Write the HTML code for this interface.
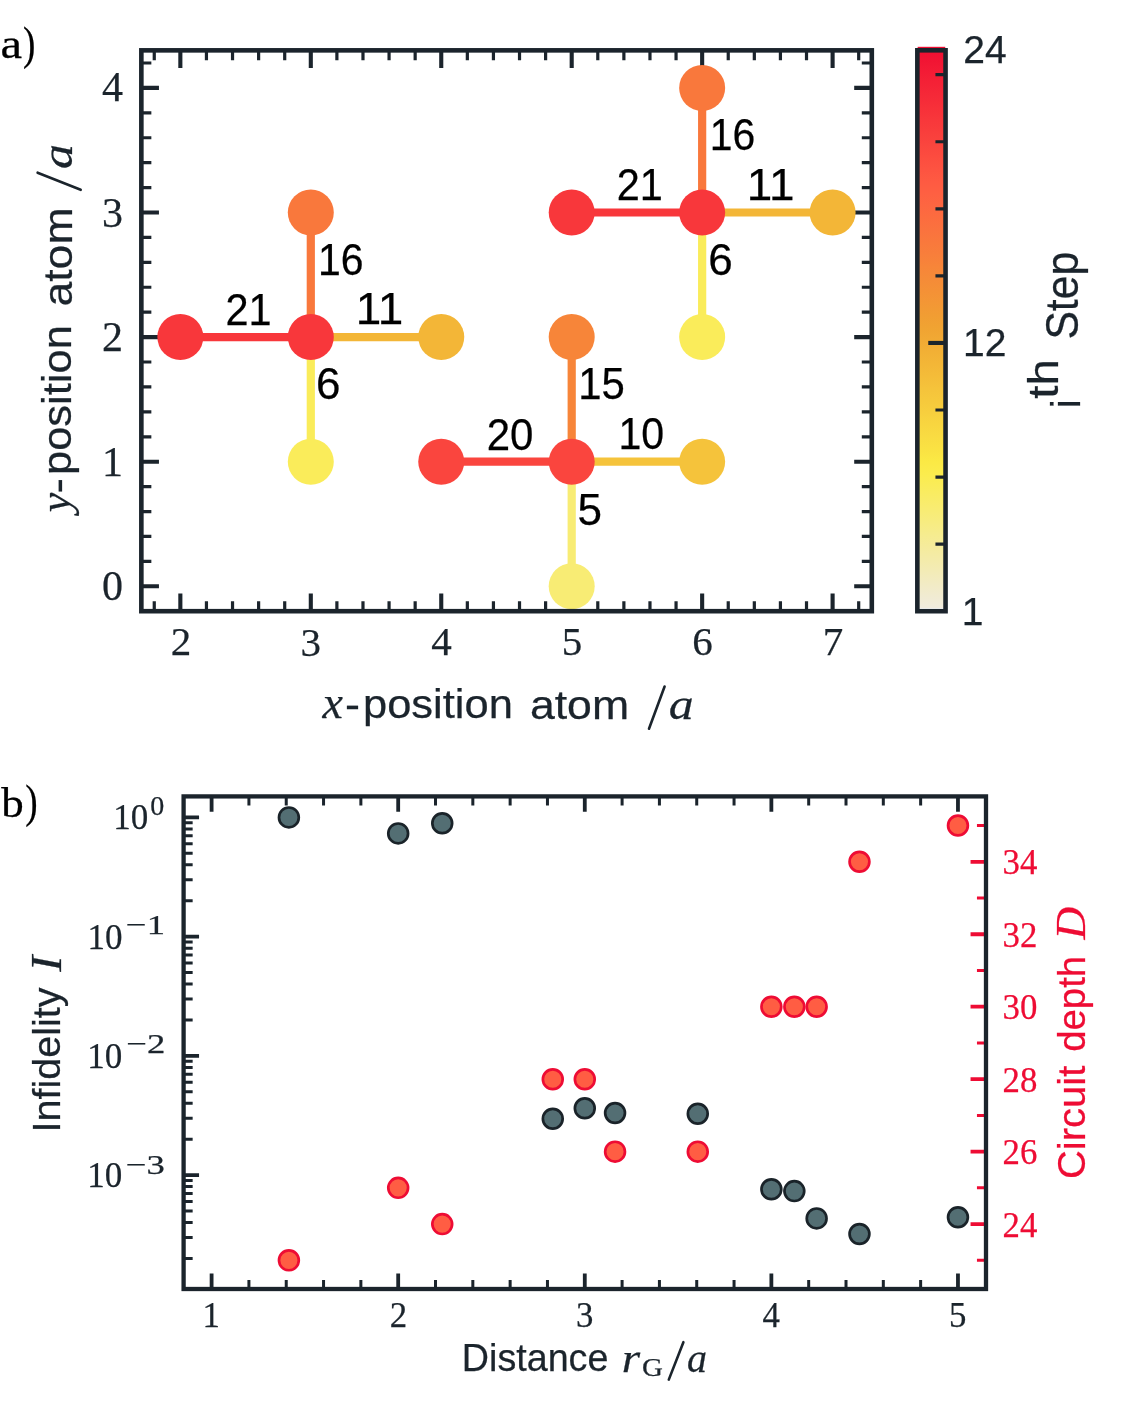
<!DOCTYPE html>
<html><head><meta charset="utf-8"><title>Figure: qubit routing steps and infidelity vs distance</title><style>
html,body{margin:0;padding:0;background:#fff;width:1125px;height:1413px;overflow:hidden;}
svg{display:block;will-change:transform;}
</style></head><body>
<svg width="1125" height="1413" viewBox="0 0 1125 1413">
<rect width="100%" height="100%" fill="#fff"/>
<defs><linearGradient id="cb" x1="0" y1="1" x2="0" y2="0">
<stop offset="0.0000" stop-color="#f0ebde"/>
<stop offset="0.0217" stop-color="#f1ebd1"/>
<stop offset="0.0435" stop-color="#f2ebc4"/>
<stop offset="0.0652" stop-color="#f3ebb6"/>
<stop offset="0.0870" stop-color="#f4eba9"/>
<stop offset="0.1087" stop-color="#f5eb9c"/>
<stop offset="0.1304" stop-color="#f6ec8f"/>
<stop offset="0.1522" stop-color="#f7ec81"/>
<stop offset="0.1739" stop-color="#f8ec74"/>
<stop offset="0.1957" stop-color="#f9ec67"/>
<stop offset="0.2174" stop-color="#faec5a"/>
<stop offset="0.2391" stop-color="#fbec4d"/>
<stop offset="0.2609" stop-color="#fbe945"/>
<stop offset="0.2826" stop-color="#fae243"/>
<stop offset="0.3043" stop-color="#f9dc42"/>
<stop offset="0.3261" stop-color="#f8d640"/>
<stop offset="0.3478" stop-color="#f7cf3e"/>
<stop offset="0.3696" stop-color="#f6c93c"/>
<stop offset="0.3913" stop-color="#f5c33b"/>
<stop offset="0.4130" stop-color="#f4bc39"/>
<stop offset="0.4348" stop-color="#f3b637"/>
<stop offset="0.4565" stop-color="#f2b035"/>
<stop offset="0.4783" stop-color="#f1a934"/>
<stop offset="0.5000" stop-color="#f0a332"/>
<stop offset="0.5217" stop-color="#f19d33"/>
<stop offset="0.5435" stop-color="#f39735"/>
<stop offset="0.5652" stop-color="#f49136"/>
<stop offset="0.5870" stop-color="#f58b38"/>
<stop offset="0.6087" stop-color="#f78539"/>
<stop offset="0.6304" stop-color="#f87e3b"/>
<stop offset="0.6522" stop-color="#f9783c"/>
<stop offset="0.6739" stop-color="#fa723e"/>
<stop offset="0.6957" stop-color="#fc6c3f"/>
<stop offset="0.7174" stop-color="#fd6641"/>
<stop offset="0.7391" stop-color="#fe6042"/>
<stop offset="0.7609" stop-color="#fe5a42"/>
<stop offset="0.7826" stop-color="#fd5341"/>
<stop offset="0.8043" stop-color="#fc4c3f"/>
<stop offset="0.8261" stop-color="#fa453e"/>
<stop offset="0.8478" stop-color="#f93e3c"/>
<stop offset="0.8696" stop-color="#f8373b"/>
<stop offset="0.8913" stop-color="#f73039"/>
<stop offset="0.9130" stop-color="#f52938"/>
<stop offset="0.9348" stop-color="#f42236"/>
<stop offset="0.9565" stop-color="#f31b35"/>
<stop offset="0.9783" stop-color="#f11433"/>
<stop offset="1.0000" stop-color="#f00d32"/>
</linearGradient></defs>
<path d="M154.26 611.20V601.20M154.26 50.35V60.35M206.44 611.20V601.20M206.44 50.35V60.35M232.53 611.20V601.20M232.53 50.35V60.35M258.62 611.20V601.20M258.62 50.35V60.35M284.71 611.20V601.20M284.71 50.35V60.35M336.89 611.20V601.20M336.89 50.35V60.35M362.98 611.20V601.20M362.98 50.35V60.35M389.07 611.20V601.20M389.07 50.35V60.35M415.16 611.20V601.20M415.16 50.35V60.35M467.34 611.20V601.20M467.34 50.35V60.35M493.43 611.20V601.20M493.43 50.35V60.35M519.52 611.20V601.20M519.52 50.35V60.35M545.61 611.20V601.20M545.61 50.35V60.35M597.79 611.20V601.20M597.79 50.35V60.35M623.88 611.20V601.20M623.88 50.35V60.35M649.97 611.20V601.20M649.97 50.35V60.35M676.06 611.20V601.20M676.06 50.35V60.35M728.24 611.20V601.20M728.24 50.35V60.35M754.33 611.20V601.20M754.33 50.35V60.35M780.42 611.20V601.20M780.42 50.35V60.35M806.51 611.20V601.20M806.51 50.35V60.35M858.69 611.20V601.20M858.69 50.35V60.35M141.35 561.38H151.35M871.80 561.38H861.80M141.35 536.46H151.35M871.80 536.46H861.80M141.35 511.54H151.35M871.80 511.54H861.80M141.35 486.62H151.35M871.80 486.62H861.80M141.35 436.78H151.35M871.80 436.78H861.80M141.35 411.86H151.35M871.80 411.86H861.80M141.35 386.94H151.35M871.80 386.94H861.80M141.35 362.02H151.35M871.80 362.02H861.80M141.35 312.18H151.35M871.80 312.18H861.80M141.35 287.26H151.35M871.80 287.26H861.80M141.35 262.34H151.35M871.80 262.34H861.80M141.35 237.42H151.35M871.80 237.42H861.80M141.35 187.58H151.35M871.80 187.58H861.80M141.35 162.66H151.35M871.80 162.66H861.80M141.35 137.74H151.35M871.80 137.74H861.80M141.35 112.82H151.35M871.80 112.82H861.80M141.35 62.98H151.35M871.80 62.98H861.80" stroke="#1b242c" stroke-width="3.2" fill="none"/>
<path d="M180.35 611.20V593.60M180.35 50.35V67.95M310.80 611.20V593.60M310.80 50.35V67.95M441.25 611.20V593.60M441.25 50.35V67.95M571.70 611.20V593.60M571.70 50.35V67.95M702.15 611.20V593.60M702.15 50.35V67.95M832.60 611.20V593.60M832.60 50.35V67.95M141.35 586.30H158.95M871.80 586.30H854.20M141.35 461.70H158.95M871.80 461.70H854.20M141.35 337.10H158.95M871.80 337.10H854.20M141.35 212.50H158.95M871.80 212.50H854.20M141.35 87.90H158.95M871.80 87.90H854.20" stroke="#1b242c" stroke-width="4.1" fill="none"/>
<line x1="310.80" y1="337.10" x2="180.35" y2="337.10" stroke="#f8373b" stroke-width="8.2"/>
<line x1="310.80" y1="337.10" x2="441.25" y2="337.10" stroke="#f3b637" stroke-width="8.2"/>
<line x1="310.80" y1="337.10" x2="310.80" y2="212.50" stroke="#f9783c" stroke-width="8.2"/>
<line x1="310.80" y1="337.10" x2="310.80" y2="461.70" stroke="#faec5a" stroke-width="8.2"/>
<line x1="571.70" y1="461.70" x2="441.25" y2="461.70" stroke="#fa453e" stroke-width="8.2"/>
<line x1="571.70" y1="461.70" x2="702.15" y2="461.70" stroke="#f5c33b" stroke-width="8.2"/>
<line x1="571.70" y1="461.70" x2="571.70" y2="337.10" stroke="#f78539" stroke-width="8.2"/>
<line x1="571.70" y1="461.70" x2="571.70" y2="586.30" stroke="#f8ec74" stroke-width="8.2"/>
<line x1="702.15" y1="212.50" x2="571.70" y2="212.50" stroke="#f8373b" stroke-width="8.2"/>
<line x1="702.15" y1="212.50" x2="832.60" y2="212.50" stroke="#f3b637" stroke-width="8.2"/>
<line x1="702.15" y1="212.50" x2="702.15" y2="87.90" stroke="#f9783c" stroke-width="8.2"/>
<line x1="702.15" y1="212.50" x2="702.15" y2="337.10" stroke="#faec5a" stroke-width="8.2"/>
<circle cx="180.35" cy="337.10" r="23" fill="#f8373b"/>
<circle cx="441.25" cy="337.10" r="23" fill="#f3b637"/>
<circle cx="310.80" cy="212.50" r="23" fill="#f9783c"/>
<circle cx="310.80" cy="461.70" r="23" fill="#faec5a"/>
<circle cx="310.80" cy="337.10" r="23" fill="#f8373b"/>
<circle cx="441.25" cy="461.70" r="23" fill="#fa453e"/>
<circle cx="702.15" cy="461.70" r="23" fill="#f5c33b"/>
<circle cx="571.70" cy="337.10" r="23" fill="#f78539"/>
<circle cx="571.70" cy="586.30" r="23" fill="#f8ec74"/>
<circle cx="571.70" cy="461.70" r="23" fill="#fa453e"/>
<circle cx="571.70" cy="212.50" r="23" fill="#f8373b"/>
<circle cx="832.60" cy="212.50" r="23" fill="#f3b637"/>
<circle cx="702.15" cy="87.90" r="23" fill="#f9783c"/>
<circle cx="702.15" cy="337.10" r="23" fill="#faec5a"/>
<circle cx="702.15" cy="212.50" r="23" fill="#f8373b"/>
<rect x="141.35" y="50.35" width="730.45" height="560.85" fill="none" stroke="#1b242c" stroke-width="4.6"/>
<text id="t_c1l" x="248.50" y="324.70" style='font-family:"Liberation Sans", sans-serif;font-size:44px;fill:#000;stroke:#000;stroke-width:0.25px;' text-anchor="middle" textLength="46.1" lengthAdjust="spacingAndGlyphs">21</text>
<text id="t_c1r" x="379.50" y="324.10" style='font-family:"Liberation Sans", sans-serif;font-size:44px;fill:#000;stroke:#000;stroke-width:0.25px;' text-anchor="middle" textLength="47.6" lengthAdjust="spacingAndGlyphs">11</text>
<text id="t_c1u" x="318.10" y="274.80" style='font-family:"Liberation Sans", sans-serif;font-size:44px;fill:#000;stroke:#000;stroke-width:0.25px;' text-anchor="start" textLength="45.5" lengthAdjust="spacingAndGlyphs">16</text>
<text id="t_c1d" x="316.00" y="399.20" style='font-family:"Liberation Sans", sans-serif;font-size:44px;fill:#000;stroke:#000;stroke-width:0.25px;' text-anchor="start">6</text>
<text id="t_c2l" x="510.00" y="449.80" style='font-family:"Liberation Sans", sans-serif;font-size:44px;fill:#000;stroke:#000;stroke-width:0.25px;' text-anchor="middle" textLength="46.7" lengthAdjust="spacingAndGlyphs">20</text>
<text id="t_c2r" x="641.30" y="449.30" style='font-family:"Liberation Sans", sans-serif;font-size:44px;fill:#000;stroke:#000;stroke-width:0.25px;' text-anchor="middle" textLength="45.7" lengthAdjust="spacingAndGlyphs">10</text>
<text id="t_c2u" x="578.20" y="399.20" style='font-family:"Liberation Sans", sans-serif;font-size:44px;fill:#000;stroke:#000;stroke-width:0.25px;' text-anchor="start" textLength="46.6" lengthAdjust="spacingAndGlyphs">15</text>
<text id="t_c2d" x="577.40" y="525.00" style='font-family:"Liberation Sans", sans-serif;font-size:44px;fill:#000;stroke:#000;stroke-width:0.25px;' text-anchor="start">5</text>
<text id="t_c3l" x="639.75" y="199.70" style='font-family:"Liberation Sans", sans-serif;font-size:44px;fill:#000;stroke:#000;stroke-width:0.25px;' text-anchor="middle" textLength="46.1" lengthAdjust="spacingAndGlyphs">21</text>
<text id="t_c3r" x="770.65" y="199.70" style='font-family:"Liberation Sans", sans-serif;font-size:44px;fill:#000;stroke:#000;stroke-width:0.25px;' text-anchor="middle" textLength="47.6" lengthAdjust="spacingAndGlyphs">11</text>
<text id="t_c3u" x="709.65" y="150.00" style='font-family:"Liberation Sans", sans-serif;font-size:44px;fill:#000;stroke:#000;stroke-width:0.25px;' text-anchor="start" textLength="45.5" lengthAdjust="spacingAndGlyphs">16</text>
<text id="t_c3d" x="708.35" y="274.50" style='font-family:"Liberation Sans", sans-serif;font-size:44px;fill:#000;stroke:#000;stroke-width:0.25px;' text-anchor="start">6</text>
<text id="t_ax2" x="181.05" y="654.50" style='font-family:"Liberation Serif", serif;font-size:41px;fill:#1b242c;stroke:#1b242c;stroke-width:0.25px;' text-anchor="middle">2</text>
<text id="t_ax3" x="310.80" y="655.50" style='font-family:"Liberation Serif", serif;font-size:41px;fill:#1b242c;stroke:#1b242c;stroke-width:0.25px;' text-anchor="middle">3</text>
<text id="t_ax4" x="441.55" y="655.00" style='font-family:"Liberation Serif", serif;font-size:41px;fill:#1b242c;stroke:#1b242c;stroke-width:0.25px;' text-anchor="middle">4</text>
<text id="t_ax5" x="572.03" y="655.00" style='font-family:"Liberation Serif", serif;font-size:41px;fill:#1b242c;stroke:#1b242c;stroke-width:0.25px;' text-anchor="middle">5</text>
<text id="t_ax6" x="702.48" y="655.00" style='font-family:"Liberation Serif", serif;font-size:41px;fill:#1b242c;stroke:#1b242c;stroke-width:0.25px;' text-anchor="middle">6</text>
<text id="t_ax7" x="832.93" y="655.00" style='font-family:"Liberation Serif", serif;font-size:41px;fill:#1b242c;stroke:#1b242c;stroke-width:0.25px;' text-anchor="middle">7</text>
<text id="t_ay0" x="123.05" y="600.45" style='font-family:"Liberation Serif", serif;font-size:42px;fill:#1b242c;stroke:#1b242c;stroke-width:0.25px;' text-anchor="end">0</text>
<text id="t_ay1" x="123.05" y="475.85" style='font-family:"Liberation Serif", serif;font-size:42px;fill:#1b242c;stroke:#1b242c;stroke-width:0.25px;' text-anchor="end">1</text>
<text id="t_ay2" x="123.05" y="351.25" style='font-family:"Liberation Serif", serif;font-size:42px;fill:#1b242c;stroke:#1b242c;stroke-width:0.25px;' text-anchor="end">2</text>
<text id="t_ay3" x="123.10" y="227.40" style='font-family:"Liberation Serif", serif;font-size:42px;fill:#1b242c;stroke:#1b242c;stroke-width:0.25px;' text-anchor="end">3</text>
<text id="t_ay4" x="123.00" y="101.30" style='font-family:"Liberation Serif", serif;font-size:42px;fill:#1b242c;stroke:#1b242c;stroke-width:0.25px;' text-anchor="end">4</text>
<rect x="917.65" y="46.8" width="27.60" height="561.20" fill="url(#cb)"/>
<rect x="917.35" y="50.3" width="28.20" height="560.90" fill="none" stroke="#1b242c" stroke-width="4.6"/>
<path d="M945.55 544.14H935.45M945.55 477.07H935.45M945.55 410.01H935.45M945.55 275.88H935.45M945.55 208.82H935.45M945.55 141.75H935.45M945.55 74.69H935.45" stroke="#1b242c" stroke-width="3.2" fill="none"/>
<path d="M945.55 342.94H928.25" stroke="#1b242c" stroke-width="4.1" fill="none"/>
<text id="t_cb24" x="963.20" y="63.40" style='font-family:"Liberation Sans", sans-serif;font-size:39px;fill:#1b242c;stroke:#1b242c;stroke-width:0.25px;' text-anchor="start">24</text>
<text id="t_cb12" x="963.00" y="356.40" style='font-family:"Liberation Sans", sans-serif;font-size:39px;fill:#1b242c;stroke:#1b242c;stroke-width:0.25px;' text-anchor="start">12</text>
<text id="t_cb1" x="961.80" y="624.70" style='font-family:"Liberation Sans", sans-serif;font-size:39px;fill:#1b242c;stroke:#1b242c;stroke-width:0.25px;' text-anchor="start">1</text>
<text id="t_i" transform="translate(1079.80,408.20) rotate(-90)" style='font-family:"Liberation Sans", sans-serif;font-size:40px;fill:#1b242c;stroke:#1b242c;stroke-width:0.25px;' text-anchor="start">i</text>
<text id="t_th" transform="translate(1058.10,398.80) rotate(-90)" style='font-family:"Liberation Sans", sans-serif;font-size:42px;fill:#1b242c;stroke:#1b242c;stroke-width:0.25px;' text-anchor="start" textLength="39.6" lengthAdjust="spacingAndGlyphs">th</text>
<text id="t_step" transform="translate(1078.30,339.60) rotate(-90)" style='font-family:"Liberation Sans", sans-serif;font-size:46px;fill:#1b242c;stroke:#1b242c;stroke-width:0.25px;' text-anchor="start" textLength="87.8" lengthAdjust="spacingAndGlyphs">Step</text>
<text id="t_xl_x" x="322.50" y="718.20" style='font-family:"Liberation Serif", serif;font-size:46px;fill:#1b242c;stroke:#1b242c;stroke-width:0.25px;font-style:italic;' text-anchor="start">x</text>
<text id="t_xl_hy" x="345.00" y="717.80" style='font-family:"Liberation Sans", sans-serif;font-size:40px;fill:#1b242c;stroke:#1b242c;stroke-width:0.25px;' text-anchor="start" textLength="15" lengthAdjust="spacingAndGlyphs">-</text>
<text id="t_xl_pos" x="363.00" y="718.30" style='font-family:"Liberation Sans", sans-serif;font-size:40px;fill:#1b242c;stroke:#1b242c;stroke-width:0.25px;' text-anchor="start" textLength="149.9" lengthAdjust="spacingAndGlyphs">position</text>
<text id="t_xl_atom" x="529.90" y="719.20" style='font-family:"Liberation Sans", sans-serif;font-size:40px;fill:#1b242c;stroke:#1b242c;stroke-width:0.25px;' text-anchor="start" textLength="99.2" lengthAdjust="spacingAndGlyphs">atom</text>
<line x1="649.0" y1="728.7" x2="664.6" y2="686.5" stroke="#1b242c" stroke-width="2.6" stroke-linecap="round"/>
<text id="t_xl_a" x="668.70" y="719.20" style='font-family:"Liberation Serif", serif;font-size:44px;fill:#1b242c;stroke:#1b242c;stroke-width:0.25px;font-style:italic;' text-anchor="start" textLength="24.9" lengthAdjust="spacingAndGlyphs">a</text>
<text id="t_yl_y" transform="translate(70.30,512.30) rotate(-90)" style='font-family:"Liberation Serif", serif;font-size:44px;fill:#1b242c;stroke:#1b242c;stroke-width:0.25px;font-style:italic;' text-anchor="start">y</text>
<text id="t_yl_hy" transform="translate(71.10,493.50) rotate(-90)" style='font-family:"Liberation Sans", sans-serif;font-size:40px;fill:#1b242c;stroke:#1b242c;stroke-width:0.25px;' text-anchor="start" textLength="15.5" lengthAdjust="spacingAndGlyphs">-</text>
<text id="t_yl_pos" transform="translate(71.30,475.00) rotate(-90)" style='font-family:"Liberation Sans", sans-serif;font-size:40px;fill:#1b242c;stroke:#1b242c;stroke-width:0.25px;' text-anchor="start" textLength="149.9" lengthAdjust="spacingAndGlyphs">position</text>
<text id="t_yl_atom" transform="translate(71.50,306.60) rotate(-90)" style='font-family:"Liberation Sans", sans-serif;font-size:40px;fill:#1b242c;stroke:#1b242c;stroke-width:0.25px;' text-anchor="start" textLength="99.2" lengthAdjust="spacingAndGlyphs">atom</text>
<line x1="80.7" y1="189.8" x2="37.6" y2="172.7" stroke="#1b242c" stroke-width="2.6" stroke-linecap="round"/>
<text id="t_yl_a" transform="translate(71.50,169.00) rotate(-90)" style='font-family:"Liberation Serif", serif;font-size:44px;fill:#1b242c;stroke:#1b242c;stroke-width:0.25px;font-style:italic;' text-anchor="start" textLength="24.9" lengthAdjust="spacingAndGlyphs">a</text>
<text id="t_pa" x="0.40" y="58.00" style='font-family:"Liberation Serif", serif;font-size:42px;fill:#000;stroke:#000;stroke-width:0.25px;' text-anchor="start" textLength="21.6" lengthAdjust="spacingAndGlyphs">a</text>
<text id="t_pap" x="22.90" y="58.80" style='font-family:"Liberation Serif", serif;font-size:46px;fill:#000;stroke:#000;stroke-width:0.25px;' text-anchor="start" textLength="12.4" lengthAdjust="spacingAndGlyphs">)</text>
<text id="t_pb" x="1.30" y="816.90" style='font-family:"Liberation Serif", serif;font-size:42px;fill:#000;stroke:#000;stroke-width:0.25px;' text-anchor="start" textLength="22.5" lengthAdjust="spacingAndGlyphs">b</text>
<text id="t_pbp" x="25.20" y="817.00" style='font-family:"Liberation Serif", serif;font-size:46px;fill:#000;stroke:#000;stroke-width:0.25px;' text-anchor="start" textLength="12.4" lengthAdjust="spacingAndGlyphs">)</text>
<path d="M248.92 1289.00V1279.95M248.92 796.40V805.45M286.24 1289.00V1279.95M286.24 796.40V805.45M323.55 1289.00V1279.95M323.55 796.40V805.45M360.87 1289.00V1279.95M360.87 796.40V805.45M435.51 1289.00V1279.95M435.51 796.40V805.45M472.83 1289.00V1279.95M472.83 796.40V805.45M510.14 1289.00V1279.95M510.14 796.40V805.45M547.46 1289.00V1279.95M547.46 796.40V805.45M622.10 1289.00V1279.95M622.10 796.40V805.45M659.42 1289.00V1279.95M659.42 796.40V805.45M696.73 1289.00V1279.95M696.73 796.40V805.45M734.05 1289.00V1279.95M734.05 796.40V805.45M808.69 1289.00V1279.95M808.69 796.40V805.45M846.01 1289.00V1279.95M846.01 796.40V805.45M883.32 1289.00V1279.95M883.32 796.40V805.45M920.64 1289.00V1279.95M920.64 796.40V805.45M183.60 1258.39H192.65M183.60 1237.40H192.65M183.60 1222.50H192.65M183.60 1210.95H192.65M183.60 1201.51H192.65M183.60 1193.53H192.65M183.60 1186.61H192.65M183.60 1180.52H192.65M183.60 1139.17H192.65M183.60 1118.18H192.65M183.60 1103.28H192.65M183.60 1091.73H192.65M183.60 1082.29H192.65M183.60 1074.31H192.65M183.60 1067.39H192.65M183.60 1061.30H192.65M183.60 1019.95H192.65M183.60 998.96H192.65M183.60 984.06H192.65M183.60 972.51H192.65M183.60 963.07H192.65M183.60 955.09H192.65M183.60 948.17H192.65M183.60 942.08H192.65M183.60 900.73H192.65M183.60 879.74H192.65M183.60 864.84H192.65M183.60 853.29H192.65M183.60 843.85H192.65M183.60 835.87H192.65M183.60 828.95H192.65M183.60 822.86H192.65" stroke="#1b242c" stroke-width="3.0" fill="none"/>
<path d="M211.60 1289.00V1273.55M211.60 796.40V811.85M398.19 1289.00V1273.55M398.19 796.40V811.85M584.78 1289.00V1273.55M584.78 796.40V811.85M771.37 1289.00V1273.55M771.37 796.40V811.85M957.96 1289.00V1273.55M957.96 796.40V811.85M183.60 1175.06H199.05M183.60 1055.84H199.05M183.60 936.62H199.05M183.60 817.40H199.05" stroke="#1b242c" stroke-width="3.8" fill="none"/>
<path d="M986.00 1260.33H976.95M986.00 1187.87H976.95M986.00 1115.41H976.95M986.00 1042.95H976.95M986.00 970.49H976.95M986.00 898.03H976.95M986.00 825.57H976.95" stroke="#ee0c34" stroke-width="3.0" fill="none"/>
<path d="M986.00 1224.10H970.55M986.00 1151.64H970.55M986.00 1079.18H970.55M986.00 1006.72H970.55M986.00 934.26H970.55M986.00 861.80H970.55" stroke="#ee0c34" stroke-width="3.8" fill="none"/>
<rect x="183.6" y="796.4" width="802.40" height="492.60" fill="none" stroke="#1b242c" stroke-width="4.3"/>
<circle cx="288.89" cy="817.4" r="9.9" fill="#536e73" stroke="#1a2329" stroke-width="2.7"/>
<circle cx="398.19" cy="833.4" r="9.9" fill="#536e73" stroke="#1a2329" stroke-width="2.7"/>
<circle cx="442.24" cy="823.2" r="9.9" fill="#536e73" stroke="#1a2329" stroke-width="2.7"/>
<circle cx="552.77" cy="1118.8" r="9.9" fill="#536e73" stroke="#1a2329" stroke-width="2.7"/>
<circle cx="584.78" cy="1108.3" r="9.9" fill="#536e73" stroke="#1a2329" stroke-width="2.7"/>
<circle cx="615.06" cy="1113.0" r="9.9" fill="#536e73" stroke="#1a2329" stroke-width="2.7"/>
<circle cx="697.77" cy="1113.7" r="9.9" fill="#536e73" stroke="#1a2329" stroke-width="2.7"/>
<circle cx="771.37" cy="1189.3" r="9.9" fill="#536e73" stroke="#1a2329" stroke-width="2.7"/>
<circle cx="794.34" cy="1191.1" r="9.9" fill="#536e73" stroke="#1a2329" stroke-width="2.7"/>
<circle cx="816.64" cy="1218.4" r="9.9" fill="#536e73" stroke="#1a2329" stroke-width="2.7"/>
<circle cx="859.47" cy="1234.0" r="9.9" fill="#536e73" stroke="#1a2329" stroke-width="2.7"/>
<circle cx="957.96" cy="1217.3" r="9.9" fill="#536e73" stroke="#1a2329" stroke-width="2.7"/>
<circle cx="288.89" cy="1260.33" r="9.9" fill="#ff5d43" stroke="#ee0c34" stroke-width="2.7"/>
<circle cx="398.19" cy="1187.87" r="9.9" fill="#ff5d43" stroke="#ee0c34" stroke-width="2.7"/>
<circle cx="442.24" cy="1224.1" r="9.9" fill="#ff5d43" stroke="#ee0c34" stroke-width="2.7"/>
<circle cx="552.77" cy="1079.18" r="9.9" fill="#ff5d43" stroke="#ee0c34" stroke-width="2.7"/>
<circle cx="584.78" cy="1079.18" r="9.9" fill="#ff5d43" stroke="#ee0c34" stroke-width="2.7"/>
<circle cx="615.06" cy="1151.64" r="9.9" fill="#ff5d43" stroke="#ee0c34" stroke-width="2.7"/>
<circle cx="697.77" cy="1151.64" r="9.9" fill="#ff5d43" stroke="#ee0c34" stroke-width="2.7"/>
<circle cx="771.37" cy="1006.72" r="9.9" fill="#ff5d43" stroke="#ee0c34" stroke-width="2.7"/>
<circle cx="794.34" cy="1006.72" r="9.9" fill="#ff5d43" stroke="#ee0c34" stroke-width="2.7"/>
<circle cx="816.64" cy="1006.72" r="9.9" fill="#ff5d43" stroke="#ee0c34" stroke-width="2.7"/>
<circle cx="859.47" cy="861.8" r="9.9" fill="#ff5d43" stroke="#ee0c34" stroke-width="2.7"/>
<circle cx="957.96" cy="825.57" r="9.9" fill="#ff5d43" stroke="#ee0c34" stroke-width="2.7"/>
<text id="t_bx1" x="211.10" y="1327.20" style='font-family:"Liberation Serif", serif;font-size:34.8px;fill:#1b242c;stroke:#1b242c;stroke-width:0.25px;' text-anchor="middle">1</text>
<text id="t_bx2" x="398.39" y="1327.20" style='font-family:"Liberation Serif", serif;font-size:34.8px;fill:#1b242c;stroke:#1b242c;stroke-width:0.25px;' text-anchor="middle">2</text>
<text id="t_bx3" x="584.63" y="1327.20" style='font-family:"Liberation Serif", serif;font-size:34.8px;fill:#1b242c;stroke:#1b242c;stroke-width:0.25px;' text-anchor="middle">3</text>
<text id="t_bx4" x="771.22" y="1327.20" style='font-family:"Liberation Serif", serif;font-size:34.8px;fill:#1b242c;stroke:#1b242c;stroke-width:0.25px;' text-anchor="middle">4</text>
<text id="t_bx5" x="957.81" y="1327.20" style='font-family:"Liberation Serif", serif;font-size:34.8px;fill:#1b242c;stroke:#1b242c;stroke-width:0.25px;' text-anchor="middle">5</text>
<text id="t_b10_0" x="148.30" y="829.40" style='font-family:"Liberation Serif", serif;font-size:35px;fill:#1b242c;stroke:#1b242c;stroke-width:0.25px;' text-anchor="end">10</text>
<text id="t_bsup_0" x="164.30" y="815.30" style='font-family:"Liberation Serif", serif;font-size:28px;fill:#1b242c;stroke:#1b242c;stroke-width:0.25px;' text-anchor="end">0</text>
<text id="t_b10_1" x="122.50" y="948.72" style='font-family:"Liberation Serif", serif;font-size:35px;fill:#1b242c;stroke:#1b242c;stroke-width:0.25px;' text-anchor="end">10</text>
<text id="t_bsup_1" x="165.00" y="934.12" style='font-family:"Liberation Serif", serif;font-size:28px;fill:#1b242c;stroke:#1b242c;stroke-width:0.25px;' text-anchor="end" textLength="39" lengthAdjust="spacingAndGlyphs">−1</text>
<text id="t_b10_2" x="122.30" y="1067.94" style='font-family:"Liberation Serif", serif;font-size:35px;fill:#1b242c;stroke:#1b242c;stroke-width:0.25px;' text-anchor="end">10</text>
<text id="t_bsup_2" x="165.40" y="1053.34" style='font-family:"Liberation Serif", serif;font-size:28px;fill:#1b242c;stroke:#1b242c;stroke-width:0.25px;' text-anchor="end" textLength="39" lengthAdjust="spacingAndGlyphs">−2</text>
<text id="t_b10_3" x="122.30" y="1187.36" style='font-family:"Liberation Serif", serif;font-size:35px;fill:#1b242c;stroke:#1b242c;stroke-width:0.25px;' text-anchor="end">10</text>
<text id="t_bsup_3" x="164.90" y="1174.36" style='font-family:"Liberation Serif", serif;font-size:28px;fill:#1b242c;stroke:#1b242c;stroke-width:0.25px;' text-anchor="end" textLength="39" lengthAdjust="spacingAndGlyphs">−3</text>
<text id="t_r24" x="1002.50" y="1236.70" style='font-family:"Liberation Serif", serif;font-size:34.8px;fill:#ee0c34;stroke:#ee0c34;stroke-width:0.25px;' text-anchor="start">24</text>
<text id="t_r26" x="1002.50" y="1164.24" style='font-family:"Liberation Serif", serif;font-size:34.8px;fill:#ee0c34;stroke:#ee0c34;stroke-width:0.25px;' text-anchor="start">26</text>
<text id="t_r28" x="1002.50" y="1091.78" style='font-family:"Liberation Serif", serif;font-size:34.8px;fill:#ee0c34;stroke:#ee0c34;stroke-width:0.25px;' text-anchor="start">28</text>
<text id="t_r30" x="1002.50" y="1019.32" style='font-family:"Liberation Serif", serif;font-size:34.8px;fill:#ee0c34;stroke:#ee0c34;stroke-width:0.25px;' text-anchor="start">30</text>
<text id="t_r32" x="1002.50" y="946.86" style='font-family:"Liberation Serif", serif;font-size:34.8px;fill:#ee0c34;stroke:#ee0c34;stroke-width:0.25px;' text-anchor="start">32</text>
<text id="t_r34" x="1002.50" y="874.40" style='font-family:"Liberation Serif", serif;font-size:34.8px;fill:#ee0c34;stroke:#ee0c34;stroke-width:0.25px;' text-anchor="start">34</text>
<text id="t_dist" x="461.80" y="1371.00" style='font-family:"Liberation Sans", sans-serif;font-size:38px;fill:#1b242c;stroke:#1b242c;stroke-width:0.25px;' text-anchor="start" textLength="146.6" lengthAdjust="spacingAndGlyphs">Distance</text>
<text id="t_dist_r" x="621.70" y="1371.50" style='font-family:"Liberation Serif", serif;font-size:40px;fill:#1b242c;stroke:#1b242c;stroke-width:0.25px;font-style:italic;' text-anchor="start" textLength="18.4" lengthAdjust="spacingAndGlyphs">r</text>
<text id="t_dist_G" x="641.90" y="1375.90" style='font-family:"Liberation Serif", serif;font-size:24.5px;fill:#1b242c;stroke:#1b242c;stroke-width:0.25px;' text-anchor="start" textLength="20.9" lengthAdjust="spacingAndGlyphs">G</text>
<line x1="668.8" y1="1379.6" x2="683.4" y2="1342.2" stroke="#1b242c" stroke-width="2.6" stroke-linecap="round"/>
<text id="t_dist_a" x="687.10" y="1371.90" style='font-family:"Liberation Serif", serif;font-size:40px;fill:#1b242c;stroke:#1b242c;stroke-width:0.25px;font-style:italic;' text-anchor="start">a</text>
<text id="t_infid" transform="translate(60.00,1132.50) rotate(-90)" style='font-family:"Liberation Sans", sans-serif;font-size:38px;fill:#1b242c;stroke:#1b242c;stroke-width:0.25px;' text-anchor="start" textLength="145" lengthAdjust="spacingAndGlyphs">Infidelity</text>
<text id="t_infid_I" transform="translate(61.10,971.70) rotate(-90)" style='font-family:"Liberation Serif", serif;font-size:43.5px;fill:#1b242c;stroke:#1b242c;stroke-width:0.25px;font-style:italic;' text-anchor="start" textLength="16" lengthAdjust="spacingAndGlyphs">I</text>
<text id="t_circ" transform="translate(1085.40,1179.10) rotate(-90)" style='font-family:"Liberation Sans", sans-serif;font-size:38px;fill:#ee0c34;stroke:#ee0c34;stroke-width:0.25px;' text-anchor="start" textLength="113.4" lengthAdjust="spacingAndGlyphs">Circuit</text>
<text id="t_depth" transform="translate(1085.20,1051.80) rotate(-90)" style='font-family:"Liberation Sans", sans-serif;font-size:38px;fill:#ee0c34;stroke:#ee0c34;stroke-width:0.25px;' text-anchor="start" textLength="96" lengthAdjust="spacingAndGlyphs">depth</text>
<text id="t_circ_D" transform="translate(1085.40,939.60) rotate(-90)" style='font-family:"Liberation Serif", serif;font-size:43px;fill:#ee0c34;stroke:#ee0c34;stroke-width:0.25px;font-style:italic;' text-anchor="start" textLength="32.7" lengthAdjust="spacingAndGlyphs">D</text>
</svg>
</body></html>
